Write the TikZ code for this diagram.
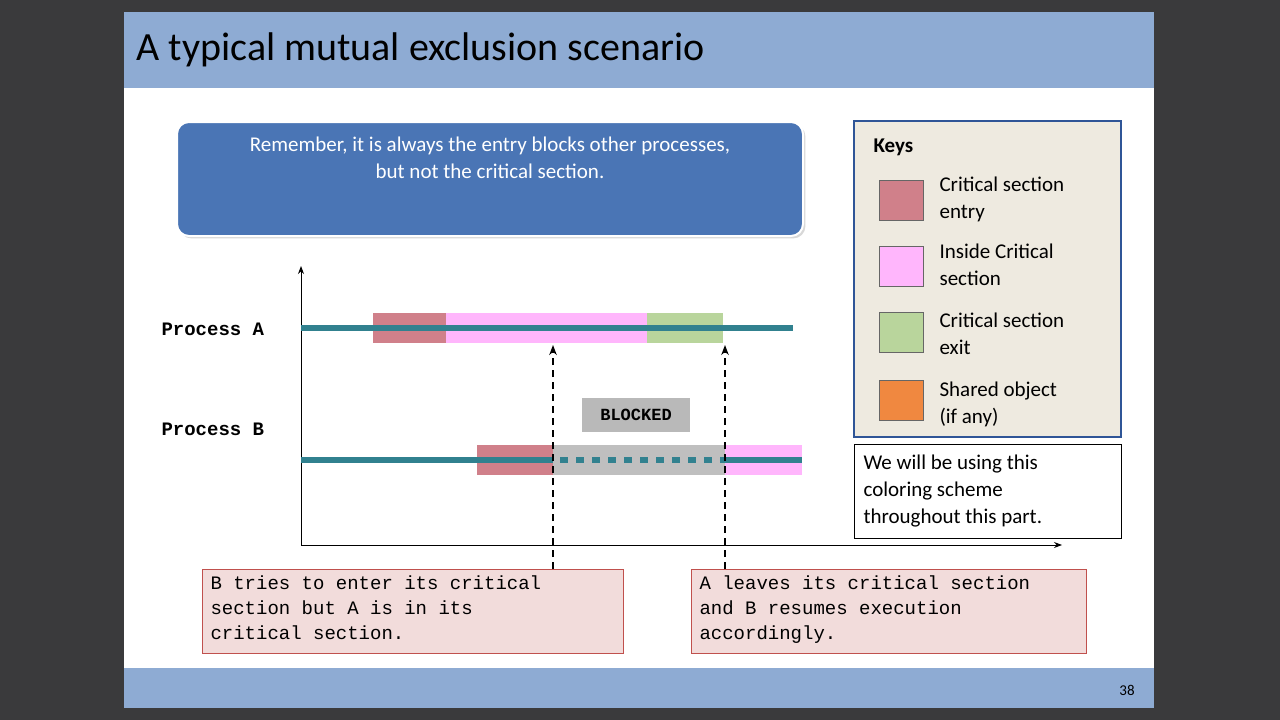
\documentclass[tikz,border=0pt]{standalone}
\usepackage{fontspec}
\setmainfont{Carlito}
\setmonofont{Liberation Mono}
\usetikzlibrary{arrows.meta,shadows}
\definecolor{bg}{HTML}{3A3A3C}
\definecolor{band}{HTML}{8EABD3}
\definecolor{blu}{HTML}{4A75B5}
\definecolor{teal}{HTML}{31818F}
\definecolor{entry}{HTML}{D0808A}
\definecolor{inside}{HTML}{FFB6FC}
\definecolor{exitc}{HTML}{B9D59C}
\definecolor{shared}{HTML}{F08840}
\definecolor{calfill}{HTML}{F2DCDB}
\definecolor{calline}{HTML}{C0504D}
\definecolor{keyfill}{HTML}{EEEAE0}
\definecolor{keyline}{HTML}{2F5597}
\tikzset{
  swatch/.style={draw=gray!80!black,line width=1pt},
  calbox/.style={draw=calline,fill=calfill,line width=1pt,anchor=north west,align=left,inner sep=0pt,font=\fontsize{19}{25}\selectfont\ttfamily},
  proc/.style={anchor=west,font=\fontsize{19}{22}\selectfont\ttfamily\bfseries},
  keytxt/.style={anchor=west,align=left,font=\fontsize{21}{27}\selectfont},
  tl/.style={teal,line width=6pt},
}
\begin{document}
\begin{tikzpicture}[x=1pt,y=-1pt]
\useasboundingbox (0,0) rectangle (1280,720);
\fill[bg] (0,0) rectangle (1280,720);
\fill[white] (124,12) rectangle (1154,708);
\fill[band] (124,12) rectangle (1154,88);
\fill[band] (124,668) rectangle (1154,708);
\node[anchor=west,font=\fontsize{40}{44}\selectfont] (title) at (133,50) {A typical mutual exclusion scenario};
\node[font=\fontsize{15}{18}\selectfont] (pg) at (1127,690) {38};
% reminder
\node[draw=white,line width=2pt,fill=blu,rounded corners=12pt,minimum width=626pt,minimum height=114pt,drop shadow={opacity=0.3},text=white,align=center,font=\fontsize{21}{27}\selectfont] (rem) at (490,179) {Remember, it is always the entry blocks other processes,\\but not the critical section.\\[16pt]};
% axes
\coordinate (o) at (301,545);
\coordinate (ytop) at (301,266);
\coordinate (xend) at (1062,545);
\draw[-{Stealth[length=8pt]},line width=1pt] (o) -- (ytop);
\draw[-{Stealth[length=8pt]},line width=1pt] (o) -- (xend);
\node[proc] (pa) at (158,329) {Process A};
\node[proc] (pb) at (158,429) {Process B};
% process A
\fill[entry] (373,313) rectangle (446,343);
\fill[inside] (446,313) rectangle (647,343);
\fill[exitc] (647,313) rectangle (723,343);
\draw[tl] (301,328) -- (793,328);
% process B
\fill[entry] (477,445) rectangle (553,475);
\fill[gray!50] (553,445) rectangle (725,475);
\fill[inside] (725,445) rectangle (802,475);
\draw[tl] (301,460) -- (553,460);
\draw[tl,dash pattern=on 8pt off 8pt] (560,460) -- (725,460);
\draw[tl] (725,460) -- (802,460);
\node[fill=gray!55,minimum width=108pt,minimum height=34pt,font=\fontsize{17}{20}\selectfont\ttfamily\bfseries] (blk) at (636,415) {BLOCKED};
% callouts
\node[calbox,minimum width=421pt,minimum height=84pt] (c1) at (202,569) {};
\node[anchor=north west,align=left,font=\fontsize{19}{25}\selectfont\ttfamily] (t1) at (207,572) {B tries to enter its critical\\section but A is in its\\critical section.};
\node[calbox,minimum width=395pt,minimum height=84pt] (c2) at (691,569) {};
\node[anchor=north west,align=left,font=\fontsize{19}{25}\selectfont\ttfamily] (t2) at (696,572) {A leaves its critical section\\and B resumes execution\\accordingly.};
\coordinate (a1) at (553,345);
\coordinate (a2) at (725,345);
\draw[dashed,line width=2pt,dash pattern=on 7pt off 5pt,-{Stealth[length=10pt]}] (553,569) -- (a1);
\draw[dashed,line width=2pt,dash pattern=on 7pt off 5pt,-{Stealth[length=10pt]}] (725,569) -- (a2);
% keys
\draw[keyline,fill=keyfill,line width=2pt] (854,121) rectangle (1121,437);
\node[anchor=west,font=\fontsize{21}{24}\selectfont\bfseries] (keys) at (870,147) {Keys};
\draw[swatch,fill=entry] (879,180) rectangle (923,220);
\draw[swatch,fill=inside] (879,246) rectangle (923,286);
\draw[swatch,fill=exitc] (879,312) rectangle (923,352);
\draw[swatch,fill=shared] (879,380) rectangle (923,420);
\node[keytxt] (k1) at (936,199) {Critical section\\entry};
\node[keytxt] (k2) at (936,265) {Inside Critical\\section};
\node[keytxt] (k3) at (936,334) {Critical section\\exit};
\node[keytxt] (k4) at (936,404) {Shared object\\(if any)};
\draw[line width=1pt] (854,444) rectangle (1121,538);
\node[keytxt] (note) at (860,491) {We will be using this\\coloring scheme\\throughout  this part.};
\end{tikzpicture}
\end{document}
